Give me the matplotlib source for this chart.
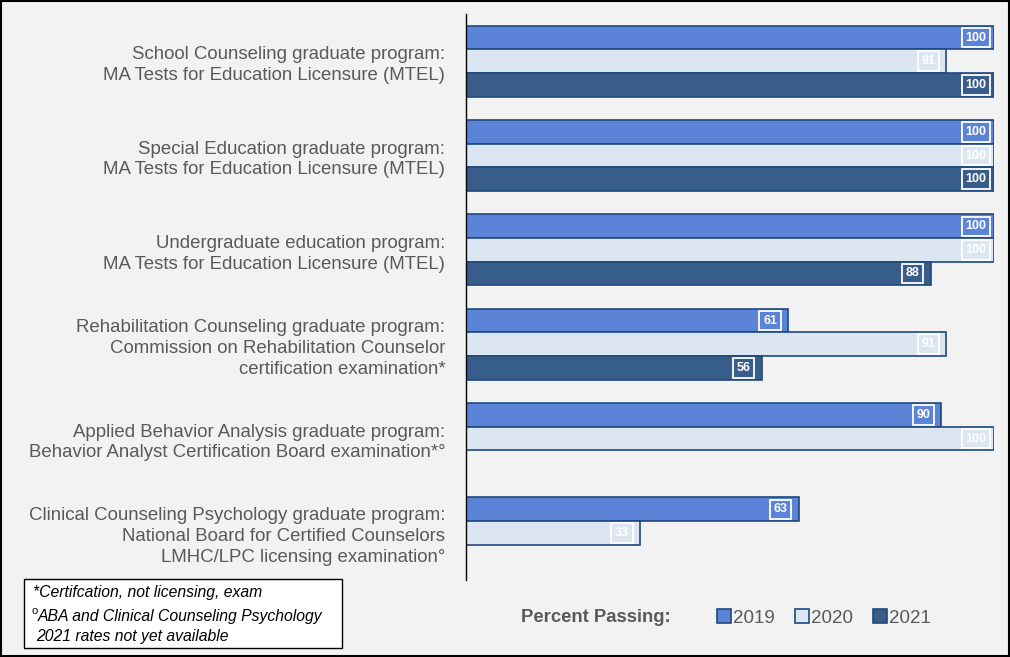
import matplotlib
matplotlib.use("Agg")
import matplotlib.pyplot as plt
from matplotlib.patches import Rectangle, Patch

plt.rcParams['font.family'] = ['Liberation Sans', 'DejaVu Sans']

categories = [
    "School Counseling graduate program:\nMA Tests for Education Licensure (MTEL)",
    "Special Education graduate program:\nMA Tests for Education Licensure (MTEL)",
    "Undergraduate education program:\nMA Tests for Education Licensure (MTEL)",
    "Rehabilitation Counseling graduate program:\nCommission on Rehabilitation Counselor\ncertification examination*",
    "Applied Behavior Analysis graduate program:\nBehavior Analyst Certification Board examination*°",
    "Clinical Counseling Psychology graduate program:\nNational Board for Certified Counselors\nLMHC/LPC licensing examination°",
]
years = ["2019", "2020", "2021"]
v2019 = [100, 100, 100, 61, 90, 63]
v2020 = [91, 100, 100, 91, 100, 33]
v2021 = [100, 100, 88, 56, None, None]
series = [v2019, v2020, v2021]

colors = ["#5B84D9", "#DCE6F2", "#385D8A"]
edge = "#1F497D"
bg = "#F2F2F2"
gray = "#595959"

fig = plt.figure(figsize=(10.10, 6.57), dpi=100, facecolor=bg)
ax = fig.add_axes([466/1010, 1-580/657, 528/1010, 566/657])
ax.set_facecolor(bg)

h = 0.25
for k, vals in enumerate(series):
    for i, v in enumerate(vals):
        if v is None:
            continue
        y = i + (k - 1) * h
        ax.barh(y, v, height=h, color=colors[k], edgecolor=edge, linewidth=1.2, zorder=2)
        ax.annotate(str(v), xy=(v, y), xytext=(-18, 0), textcoords='offset pixels',
                    ha='center', va='center', color='white', fontsize=9, fontweight='bold',
                    bbox=dict(boxstyle='square,pad=0.3', fc='none', ec='white', lw=1.3),
                    zorder=3)

ax.set_xlim(0, 100)
ax.set_ylim(5.5, -0.5)
ax.set_yticks(range(len(categories)))
ax.set_yticklabels(categories, fontsize=13.4, color=gray, ha='right', linespacing=1.3)
ax.tick_params(axis='y', length=0, pad=15)
ax.set_xticks([])
for s in ['top', 'right', 'bottom']:
    ax.spines[s].set_visible(False)
ax.spines['left'].set_color('black')
ax.spines['left'].set_linewidth(1.0)

# Legend
fig.text(521/1010, 1-617/657, "Percent Passing:", fontsize=13.3, fontweight='bold',
         color=gray, ha='left', va='center')
handles = [Patch(facecolor=colors[k], edgecolor=edge, linewidth=1.2, label=years[k]) for k in range(3)]
leg = fig.legend(handles=handles, loc='center left', bbox_to_anchor=(700/1010, 1-618/657),
                 ncol=3, frameon=False, fontsize=13.5, handlelength=0.75, handleheight=0.75,
                 handletextpad=0.12, columnspacing=1.05)
for t in leg.get_texts():
    t.set_color(gray)

# Footnote box
fig.patches.append(Rectangle((24/1010, 1-648/657), (342-24)/1010, (648-579)/657,
                             transform=fig.transFigure, facecolor='white', edgecolor='black',
                             linewidth=1.0))
fs = 11.3
fig.text(33/1010, 1-593/657, "*Certifcation, not licensing, exam", fontsize=fs,
         style='italic', ha='left', va='center', color='black')
fig.text(31/1010, 1-611/657, "o", fontsize=8, ha='left', va='center', color='black')
fig.text(38/1010, 1-617/657, "ABA and Clinical Counseling Psychology", fontsize=fs,
         style='italic', ha='left', va='center', color='black')
fig.text(36/1010, 1-636/657, "2021 rates not yet available", fontsize=fs,
         style='italic', ha='left', va='center', color='black')

# Figure border
fig.patches.append(Rectangle((0.001, 0.0015), 0.998, 0.997, transform=fig.transFigure,
                             facecolor='none', edgecolor='black', linewidth=1.5))

fig.savefig("out.png", dpi=100, facecolor=bg)
